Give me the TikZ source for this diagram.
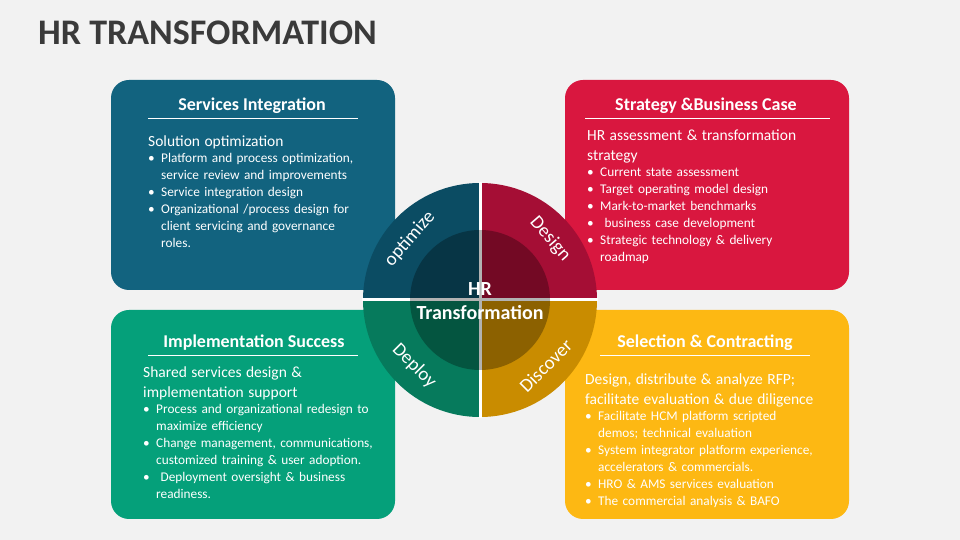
\documentclass[tikz,border=0pt]{standalone}
\usepackage{fontspec}
\setmainfont{Carlito}
\usetikzlibrary{calc}
\definecolor{bgc}{HTML}{F2F2F2}
\definecolor{tlc}{HTML}{12637F}\definecolor{tlr}{HTML}{0B4C63}
\definecolor{trc}{HTML}{D9173F}\definecolor{trr}{HTML}{A50E35}
\definecolor{blc}{HTML}{05A07A}\definecolor{blr}{HTML}{067A5C}
\definecolor{brc}{HTML}{FDB813}\definecolor{brr}{HTML}{C98C00}
\definecolor{ttl}{HTML}{3A3A3A}
\newcommand{\bi}[1]{\par\hangindent=13pt\hangafter=1\noindent\makebox[13pt][l]{•}#1}
\newcommand{\hd}[1]{\hyphenpenalty=10000 \exhyphenpenalty=10000 {\fontsize{15.5pt}{20pt}\selectfont #1\par}\vspace{-1pt}}
\tikzset{card/.style={rounded corners=18pt},
 ttext/.style={text=white,font=\bfseries\fontsize{18pt}{20pt}\selectfont,anchor=base},
 btext/.style={text=white,anchor=north west,align=left,inner sep=0pt,text width=240pt,
   font=\fontsize{13.3pt}{17pt}\selectfont},
 ring/.style={text=white,font=\fontsize{19pt}{20pt}\selectfont}}
\begin{document}
\begin{tikzpicture}[x=1pt,y=1pt]
\fill[bgc] (0,0) rectangle (960,540);
\node[text=ttl,font=\bfseries\fontsize{36pt}{38pt}\selectfont,anchor=base west,inner sep=0pt] (title) at (38,495) {HR TRANSFORMATION};
% cards
\fill[tlc,card] (111,250) rectangle (395,460);
\fill[trc,card] (565,250) rectangle (849,460);
\fill[blc,card] (111,21) rectangle (395,230);
\fill[brc,card] (565,21) rectangle (849,230);
% titles
\node[ttext] (t1) at (252,429) {Services Integration};
\draw[white,thick] (148,422) -- (358,422);
\node[ttext] (t2) at (706,429) {Strategy \&Business Case};
\draw[white,thick] (585,422) -- (830,422);
\node[ttext] (t3) at (254,192) {Implementation Success};
\draw[white,thick] (148,185) -- (358,185);
\node[ttext] (t4) at (705,192) {Selection \& Contracting};
\draw[white,thick] (600,185) -- (810,185);
% bodies
\node[btext,text width=216pt] (b1) at (148,404) {\hd{Solution optimization}
\bi{Platform and process optimization, service review and improvements}
\bi{Service integration design}
\bi{Organizational /process design for client servicing and governance roles.}\par};
\node[btext,text width=238pt] (b2) at (587,410) {\hd{HR assessment \& transformation strategy}
\bi{Current state assessment}
\bi{Target operating model design}
\bi{Mark-to-market benchmarks}
\bi{\ business case development}
\bi{Strategic technology \& delivery roadmap}\par};
\node[btext,text width=242pt] (b3) at (143,173) {\hd{Shared services design \& implementation support}
\bi{Process and organizational redesign to maximize efficiency}
\bi{Change management, communications, customized training \& user adoption.}
\bi{\ Deployment oversight \& business readiness.}\par};
\node[btext,text width=232pt] (b4) at (585,166) {\hd{Design, distribute \& analyze RFP; facilitate evaluation \& due diligence}
\bi{Facilitate HCM platform scripted demos; technical evaluation}
\bi{System integrator platform experience, accelerators \& commercials.}
\bi{HRO \& AMS services evaluation}
\bi{The commercial analysis \& BAFO}\par};
% circle
\coordinate (c) at (480,240);
\fill[tlr] (c) -- ++(90:117) arc (90:180:117) -- cycle;
\fill[trr] (c) -- ++(0:117) arc (0:90:117) -- cycle;
\fill[blr] (c) -- ++(180:117) arc (180:270:117) -- cycle;
\fill[brr] (c) -- ++(270:117) arc (270:360:117) -- cycle;
\draw[white,line width=3pt] ($(c)+(-118,0)$) -- ($(c)+(118,0)$);
\draw[white,line width=3pt] ($(c)+(0,-118)$) -- ($(c)+(0,118)$);
\fill[black,opacity=0.3] (c) circle (70);
\node[ring,rotate=49] (r1) at ($(c)+(139:93)$) {optimize};
\node[ring,rotate=-49] (r2) at ($(c)+(41:93)$) {Design};
\node[ring,rotate=-45] (r3) at ($(c)+(225:93)$) {Deploy};
\node[ring,rotate=45] (r4) at ($(c)+(-45:93)$) {Discover};
\node[text=white,font=\bfseries\fontsize{20pt}{24pt}\selectfont,align=center] (ctr) at (480,239) {HR\\Transformation};
\end{tikzpicture}
\end{document}
